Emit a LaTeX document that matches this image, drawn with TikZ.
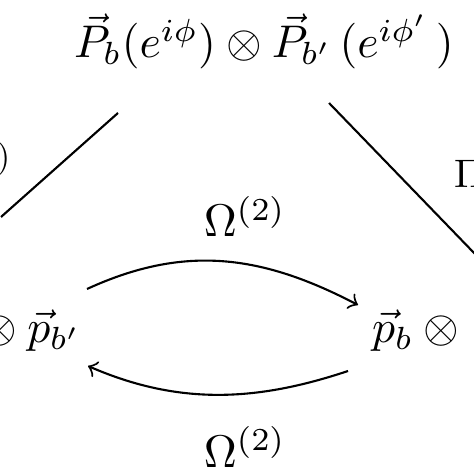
\documentclass[tikz,border=0pt]{standalone}
\usepackage{amsmath}
\begin{document}
\begin{tikzpicture}[x=0.2185pt,y=-0.2185pt,
  lbl/.style={inner sep=0pt, outer sep=0pt},
  conn/.style={line width=0.46pt},
  arr/.style={conn,->}]
\useasboundingbox (0,0) rectangle (474,474);
\clip (0,0) rectangle (474,474);
% nodes
\node[lbl, anchor=base west] (top) at (74,58) {$\vec P_b(e^{i\phi})\otimes\vec P_{b'}\,(e^{i\phi'}\,)$};
\node[lbl, anchor=base east] (L) at (81,343) {${}\otimes\vec p_{b'}$};
\node[lbl, anchor=base west] (R) at (372,343) {$\vec p_b\otimes{}$};
\node[lbl, anchor=base] (o1) at (245,237) {$\Omega^{(2)}$};
\node[lbl, anchor=base] (o2) at (245,467) {$\Omega^{(2)}$};
\node[lbl, anchor=base east, scale=0.73] (sl) at (10,168) {$)$};
\node[lbl, anchor=base west, scale=0.87] (sr) at (454,188) {$\Pi$};
% connector ends
\coordinate (tl) at (118,113);
\coordinate (bl) at (1,217);
\coordinate (tr) at (329,103);
\coordinate (br) at (490,269.5);
\coordinate (a1s) at (87,289);
\coordinate (a1e) at (358,305);
\coordinate (a2s) at (348,371);
\coordinate (a2e) at (88,366);
% connectors
\draw[conn] (tl) -- (bl);
\draw[conn] (tr) -- (br);
\draw[arr] (a1s) .. controls (185,244) and (262,255) .. (a1e);
\draw[arr] (a2s) .. controls (258,401) and (180,406) .. (a2e);
\end{tikzpicture}
\end{document}
